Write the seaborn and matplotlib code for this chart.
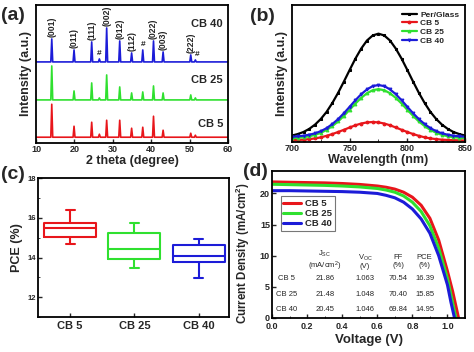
import numpy as np
import pandas as pd
import seaborn as sns
import matplotlib.pyplot as plt
from matplotlib.ticker import MultipleLocator

# ---- (a) XRD peaks: positions (2 theta) and heights
peak_pos = [14.1, 19.9, 24.5, 26.5, 28.4, 31.8, 34.9, 37.8, 40.6, 43.1, 50.3, 51.5]
peak_names = ["(001)", "(011)", "(111)", "#", "(002)", "(012)", "(112)", "#",
              "(022)", "(003)", "(222)", "#"]
h_cb40 = [23, 12, 20, 3, 34, 21, 9, 12, 21, 10, 7, 2]
h_cb25 = [34, 9, 17, 2, 25, 13, 7, 8, 14, 7, 5, 2]
h_cb5 = [33, 11, 15, 3, 17, 17, 9, 10, 21, 7, 4, 2]
xrd_offsets = [0, 37.3, 75.3]
xrd_names = ["CB 5", "CB 25", "CB 40"]

# ---- (b) PL spectra
wl = [700, 705, 710, 715, 720, 725, 730, 735, 740, 745, 750, 755, 760, 765, 770, 775,
      780, 785, 790, 795, 800, 805, 810, 815, 820, 825, 830, 835, 840, 845, 850]
pl_glass = [0.046, 0.057, 0.072, 0.095, 0.126, 0.167, 0.219, 0.284, 0.358, 0.440, 0.525,
            0.608, 0.681, 0.740, 0.777, 0.790, 0.777, 0.740, 0.681, 0.608, 0.525, 0.440,
            0.358, 0.284, 0.219, 0.167, 0.126, 0.095, 0.072, 0.057, 0.046]
pl_cb5 = [0.012, 0.014, 0.016, 0.020, 0.025, 0.033, 0.044, 0.057, 0.072, 0.088, 0.105,
          0.121, 0.134, 0.142, 0.145, 0.142, 0.134, 0.121, 0.105, 0.088, 0.072, 0.057,
          0.044, 0.033, 0.025, 0.020, 0.016, 0.014, 0.012, 0.011, 0.010]
pl_cb25 = [0.028, 0.030, 0.034, 0.041, 0.051, 0.066, 0.087, 0.115, 0.149, 0.190, 0.234,
           0.280, 0.321, 0.355, 0.377, 0.385, 0.377, 0.355, 0.321, 0.280, 0.234, 0.190,
           0.149, 0.115, 0.087, 0.066, 0.051, 0.041, 0.034, 0.030, 0.028]
pl_cb40 = [0.038, 0.040, 0.045, 0.052, 0.062, 0.078, 0.100, 0.130, 0.166, 0.209, 0.256,
           0.304, 0.348, 0.383, 0.407, 0.415, 0.407, 0.383, 0.348, 0.304, 0.256, 0.209,
           0.166, 0.130, 0.100, 0.078, 0.062, 0.052, 0.045, 0.040, 0.038]

# ---- (c) PCE box stats (min, Q1, median, Q3, max)
pce_cb5 = [14.68, 15.06, 15.50, 15.75, 16.38]
pce_cb25 = [13.47, 13.95, 14.45, 15.22, 15.72]
pce_cb40 = [12.98, 13.77, 14.07, 14.64, 14.94]

# ---- (d) J-V curves
v_cb5 = [0, 0.1, 0.2, 0.3, 0.4, 0.5, 0.6, 0.65, 0.7, 0.75, 0.8, 0.85, 0.9, 0.95, 1.0, 1.03, 1.063]
j_cb5 = [21.86, 21.8, 21.75, 21.7, 21.6, 21.45, 21.2, 21.0, 20.7, 20.2, 19.4, 18.1, 16.0, 12.5, 7.5, 4.2, 0]
v_cb25 = [0, 0.1, 0.2, 0.3, 0.4, 0.5, 0.6, 0.65, 0.7, 0.75, 0.8, 0.85, 0.9, 0.95, 1.0, 1.025, 1.048]
j_cb25 = [21.48, 21.42, 21.36, 21.3, 21.2, 21.05, 20.8, 20.55, 20.2, 19.6, 18.6, 17.1, 14.8, 11.2, 6.3, 3.0, 0]
v_cb40 = [0, 0.1, 0.2, 0.3, 0.4, 0.5, 0.6, 0.65, 0.7, 0.75, 0.8, 0.85, 0.9, 0.95, 1.0, 1.02, 1.04]
j_cb40 = [20.45, 20.45, 20.4, 20.35, 20.3, 20.2, 20.0, 19.7, 19.3, 18.6, 17.5, 15.9, 13.6, 10.0, 5.3, 2.5, 0]

tbl_rows = ["CB 5", "CB 25", "CB 40"]
tbl_jsc = ["21.86", "21.48", "20.45"]
tbl_voc = ["1.063", "1.048", "1.046"]
tbl_ff = ["70.54", "70.40", "69.84"]
tbl_pce = ["16.39", "15.85", "14.95"]

red, green, blue = "#e8161b", "#2fe02f", "#1c1cd8"

sns.set_style("ticks")
plt.rcParams['font.family'] = ['Liberation Sans', 'DejaVu Sans']
plt.rcParams['font.weight'] = 'bold'
plt.rcParams['axes.labelweight'] = 'bold'
plt.rcParams['mathtext.default'] = 'regular'
plt.rcParams['xtick.direction'] = 'in'
plt.rcParams['ytick.direction'] = 'in'
plt.rcParams['axes.linewidth'] = 1.3
plt.rcParams['axes.edgecolor'] = 'black'

fig = plt.figure(figsize=(4.74, 3.52), dpi=100)
ax_a = fig.add_axes([0.076, 0.594, 0.405, 0.392])
ax_b = fig.add_axes([0.616, 0.597, 0.365, 0.389])
ax_c = fig.add_axes([0.080, 0.099, 0.403, 0.395])
ax_d = fig.add_axes([0.574, 0.097, 0.407, 0.417])

# ---------------- (a)
def xrd_trace(heights, base):
    xs, ys = [10], [base]
    for p, h in zip(peak_pos, heights):
        xs += [p - 0.25, p, p + 0.25]
        ys += [base, base + h, base]
    xs.append(60)
    ys.append(base)
    return xs, ys

for hs, off, col in zip([h_cb5, h_cb25, h_cb40], xrd_offsets, [red, green, blue]):
    xs, ys = xrd_trace(hs, off)
    sns.lineplot(x=xs, y=ys, color=col, lw=1.2, sort=False, ax=ax_a)
for i, (p, h, name) in enumerate(zip(peak_pos, h_cb40, peak_names)):
    if name == "#":
        # last hash sits just right of the (222) label
        xp = p + 0.6 if i == len(peak_pos) - 1 else p
        ax_a.text(xp, xrd_offsets[2] + h + 1.5, name, ha='center', va='bottom', fontsize=6)
    else:
        ax_a.text(p, xrd_offsets[2] + h + 1.5, name, ha='center', va='bottom',
                  fontsize=6.3, rotation=90)
for off, name, dy in zip(xrd_offsets, xrd_names, [13, 19.5, 37.5]):
    ax_a.text(58.7, off + dy, name, ha='right', va='center', fontsize=8)
ax_a.set_xlim(10, 60)
ax_a.set_ylim(-5.7, 132.3)
ax_a.set_yticks([])
ax_a.xaxis.set_major_locator(MultipleLocator(10))
ax_a.tick_params(axis='x', labelsize=6.5, length=3, width=1, pad=1.5)
ax_a.set_xlabel("2 theta (degree)", fontsize=9, labelpad=1)
ax_a.set_ylabel("Intensity (a.u.)", fontsize=9, labelpad=3)

# ---------------- (b)
for ys, col, mk, lab in zip([pl_glass, pl_cb5, pl_cb25, pl_cb40],
                            ["black", red, green, blue], ["s", "o", "^", "v"],
                            ["Per/Glass", "CB 5", "CB 25", "CB 40"]):
    sns.lineplot(x=wl, y=ys, color=col, marker=mk, ms=2.0, mec=col, lw=1.6,
                 label=lab, ax=ax_b)
ax_b.set_xlim(700, 850)
ax_b.set_ylim(0, 1)
ax_b.set_yticks([])
ax_b.xaxis.set_major_locator(MultipleLocator(50))
ax_b.xaxis.set_minor_locator(MultipleLocator(25))
ax_b.tick_params(axis='x', labelsize=6.5, length=3, width=1, pad=1.5)
ax_b.tick_params(axis='x', which='minor', length=2)
ax_b.set_xlabel("Wavelength (nm)", fontsize=9, labelpad=1)
ax_b.set_ylabel("Intensity (a.u.)", fontsize=9, labelpad=3)
ax_b.legend(loc='upper right', frameon=False, fontsize=6, handlelength=1.8,
            labelspacing=0.1, borderaxespad=0.3, handletextpad=0.4)

# ---------------- (c)
df_c = pd.DataFrame({"sample": np.repeat(xrd_names, 5),
                     "pce": pce_cb5 + pce_cb25 + pce_cb40})
sns.boxplot(data=df_c, x="sample", y="pce", hue="sample", palette=[red, green, blue],
            fill=False, width=0.81, linewidth=1.5, whis=np.inf, legend=False,
            capwidths=0.14, ax=ax_c)
ax_c.set_xlim(-0.5, 2.47)
ax_c.set_ylim(11, 18)
ax_c.set_yticks([12, 14, 16, 18])
ax_c.yaxis.set_minor_locator(MultipleLocator(1))
ax_c.tick_params(axis='y', labelsize=5.5, length=3, width=1, pad=1.5)
ax_c.tick_params(axis='y', which='minor', length=1.5)
ax_c.tick_params(axis='x', labelsize=8, length=3, width=1, pad=3)
ax_c.set_xlabel("")
ax_c.set_ylabel("PCE (%)", fontsize=9, labelpad=3)

# ---------------- (d)
for vs, js, col, lab in zip([v_cb5, v_cb25, v_cb40], [j_cb5, j_cb25, j_cb40],
                            [red, green, blue], xrd_names):
    sns.lineplot(x=vs, y=js, color=col, lw=2.2, label=lab, ax=ax_d)
ax_d.set_xlim(0, 1.1)
ax_d.set_ylim(0, 23.6)
ax_d.xaxis.set_major_locator(MultipleLocator(0.2))
ax_d.xaxis.set_minor_locator(MultipleLocator(0.1))
ax_d.yaxis.set_major_locator(MultipleLocator(5))
ax_d.xaxis.set_major_formatter(plt.FormatStrFormatter('%.1f'))
ax_d.tick_params(labelsize=6.5, length=3, width=1)
ax_d.tick_params(axis='x', pad=3)
ax_d.tick_params(axis='y', pad=1.5)
ax_d.tick_params(which='minor', length=1.5)
ax_d.set_xlabel("Voltage (V)", fontsize=9.5, labelpad=2)
ax_d.set_ylabel("Current Density (mA/cm$^2$)", fontsize=8.3, labelpad=2)
ax_d.yaxis.set_label_coords(-0.105, 0.44)
leg = ax_d.legend(loc='upper left', bbox_to_anchor=(0.02, 0.86), fontsize=6.8,
                  fancybox=False, edgecolor='#555555', handlelength=1.9,
                  labelspacing=0.1, borderpad=0.3, handletextpad=0.4)
leg.get_frame().set_linewidth(0.8)

col_v = [0.30, 0.53, 0.72, 0.87]
heads = ["J$_{SC}$\n(mA/cm$^2$)", "V$_{OC}$\n(V)", "FF\n(%)", "PCE\n(%)"]
for xv, hd in zip(col_v, heads):
    ax_d.text(xv, 9.1, hd, ha='center', va='center', fontsize=5.5,
              fontweight='normal', linespacing=1.1)
for yv, rn, a, b, c, d in zip([6.3, 3.8, 1.35], tbl_rows, tbl_jsc, tbl_voc, tbl_ff, tbl_pce):
    ax_d.text(0.085, yv, rn, ha='center', va='center', fontsize=5.5, fontweight='normal')
    for xv, val in zip(col_v, [a, b, c, d]):
        ax_d.text(xv, yv, val, ha='center', va='center', fontsize=5.5, fontweight='normal')

# panel letters
fig.text(0.002, 0.955, "(a)", fontsize=14, va='center')
fig.text(0.527, 0.952, "(b)", fontsize=14, va='center')
fig.text(0.002, 0.505, "(c)", fontsize=14, va='center')
fig.text(0.513, 0.512, "(d)", fontsize=14, va='center')

fig.savefig("out.png", dpi=100)
